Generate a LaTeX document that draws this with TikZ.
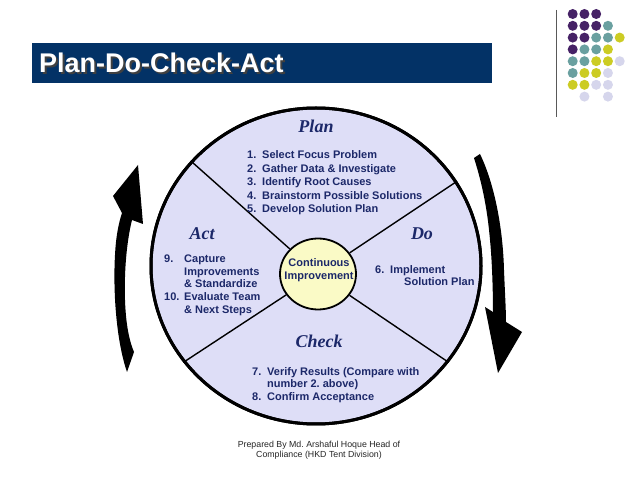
\documentclass[tikz,border=0pt]{standalone}
\usepackage{fontspec}
\setmainfont{Liberation Sans}
\newfontfamily\hdfont{Liberation Serif}
\usetikzlibrary{shapes.geometric}
\frenchspacing
\definecolor{navy}{RGB}{28,40,105}
\definecolor{titlebar}{RGB}{3,50,102}
\definecolor{lav}{RGB}{222,222,247}
\definecolor{cream}{RGB}{250,250,198}
\definecolor{dpurple}{RGB}{70,34,102}
\definecolor{dteal}{RGB}{106,160,160}
\definecolor{dyellow}{RGB}{204,204,36}
\definecolor{dlav}{RGB}{214,214,236}
\tikzset{
  heading/.style={font=\hdfont\bfseries\itshape\fontsize{18}{20}\selectfont, text=navy, inner sep=0, anchor=base},
  listtxt/.style={font=\bfseries, text=navy, inner sep=0, anchor=north west},
  divider/.style={line width=1.4pt},
  bigarrow/.style={fill=black, draw=none},
  dot/.style={circle, inner sep=0, minimum size=10pt},
}
\begin{document}
\frenchspacing
\begin{tikzpicture}[x=1pt,y=-1pt]
\useasboundingbox (0,0) rectangle (638,478);
\fill[white] (0,0) rectangle (638,478);

% title bar
\node[fill=titlebar, minimum width=460pt, minimum height=40pt, inner sep=0, anchor=north west] (bar) at (32,43) {};
\node[font=\bfseries\fontsize{27}{30}\selectfont, text=black!75, anchor=base west, inner sep=0] (titleshadow) at (41,75) {Plan-Do-Check-Act};
\node[font=\bfseries\fontsize{27}{30}\selectfont, text=white, anchor=base west, inner sep=0] (title) at (39,73) {Plan-Do-Check-Act};

% decoration top right
\coordinate (vtop) at (556,10);
\coordinate (vbot) at (556,117);
\draw[gray!70!black, line width=1pt] (vtop) -- (vbot);
\foreach \c/\r/\col in {0/0/dpurple,1/0/dpurple,2/0/dpurple,
  0/1/dpurple,1/1/dpurple,2/1/dpurple,3/1/dteal,
  0/2/dpurple,1/2/dpurple,2/2/dteal,3/2/dteal,4/2/dyellow,
  0/3/dpurple,1/3/dteal,2/3/dteal,3/3/dyellow,
  0/4/dteal,1/4/dteal,2/4/dyellow,3/4/dyellow,4/4/dlav,
  0/5/dteal,1/5/dyellow,2/5/dyellow,3/5/dlav,
  0/6/dyellow,1/6/dyellow,2/6/dlav,3/6/dlav,
  1/7/dlav,3/7/dlav}
  \node[dot, fill=\col] (d\c\r) at ({572.7+11.75*\c},{14+11.8*\r}) {};

% arrows
\path[bigarrow] (127,372) .. controls (116,340) and (113,290) .. (115,255)
  .. controls (116,235) and (119,222) .. (122,213) -- (113,196) -- (138,165) -- (143,224) -- (132,220)
  .. controls (127,240) and (124,270) .. (125,300) .. controls (126,330) and (131,345) .. (134,352) -- cycle;
\path[bigarrow] (474,158) -- (480,154) .. controls (495,185) and (503,230) .. (504,270)
  .. controls (505,295) and (506,310) .. (506,322) -- (522,332) -- (498,373) -- (485,307) -- (493,312)
  .. controls (493,290) and (492,260) .. (490,240) .. controls (487,205) and (481,180) .. (474,158) -- cycle;

% wheel
\node[ellipse, draw, line width=3pt, fill=lav, minimum width=330pt, minimum height=316pt, inner sep=0] (outer) at (316,266) {};
\node[ellipse, draw, line width=1.8pt, fill=cream, minimum width=76pt, minimum height=71pt, inner sep=0] (ci) at (318,274) {};
\draw[divider] (ci) -- (outer.140.8);
\draw[divider] (ci) -- (outer.31.4);
\draw[divider] (ci) -- (outer.216.7);
\draw[divider] (ci) -- (outer.324.5);
\draw[line width=3pt] (outer.center) ellipse [x radius=165pt, y radius=158pt];

\node[font=\bfseries\fontsize{11}{12.4}\selectfont, text=navy, align=center, inner sep=0] (citext) at (319,270) {Continuous\\Improvement};

% headings
\node[heading] (plan) at (316,133) {Plan};
\node[heading] (act) at (202,240) {Act};
\node[heading] (do) at (422,240) {Do};
\node[heading] (check) at (319,348) {Check};

% lists
\node[listtxt] (planlist) at (247,148.9) {\fontsize{11}{13.5}\selectfont\begin{tabular}{@{}p{15pt}@{}l@{}}
1. & Select Focus Problem\\
2. & Gather Data \& Investigate\\
3. & Identify Root Causes\\
4. & Brainstorm Possible Solutions\\
5. & Develop Solution Plan
\end{tabular}};
\node[listtxt] (actlist) at (164,252.9) {\fontsize{11}{12.9}\selectfont\begin{tabular}{@{}p{20pt}@{}l@{}}
9. & Capture\\
 & Improvements\\
 & \& Standardize\\
10. & Evaluate Team\\
 & \& Next Steps
\end{tabular}};
\node[listtxt] (dolist) at (375,264.6) {\fontsize{11}{12.4}\selectfont\begin{tabular}{@{}p{15pt}@{}l@{}}
6. & Implement\\
 & \hspace{14pt}Solution Plan
\end{tabular}};
\node[listtxt] (checklist) at (252,366.3) {\fontsize{11}{12.5}\selectfont\begin{tabular}{@{}p{15pt}@{}l@{}}
7. & Verify Results (Compare with\\
 & number 2. above)\\
8. & Confirm Acceptance
\end{tabular}};

% footer
\node[font=\fontsize{8.8}{10}\selectfont, text=black!85, align=center, inner sep=0] (footer) at (319,450) {Prepared By Md. Arshaful Hoque Head of\\Compliance (HKD Tent Division)};
\end{tikzpicture}
\end{document}
